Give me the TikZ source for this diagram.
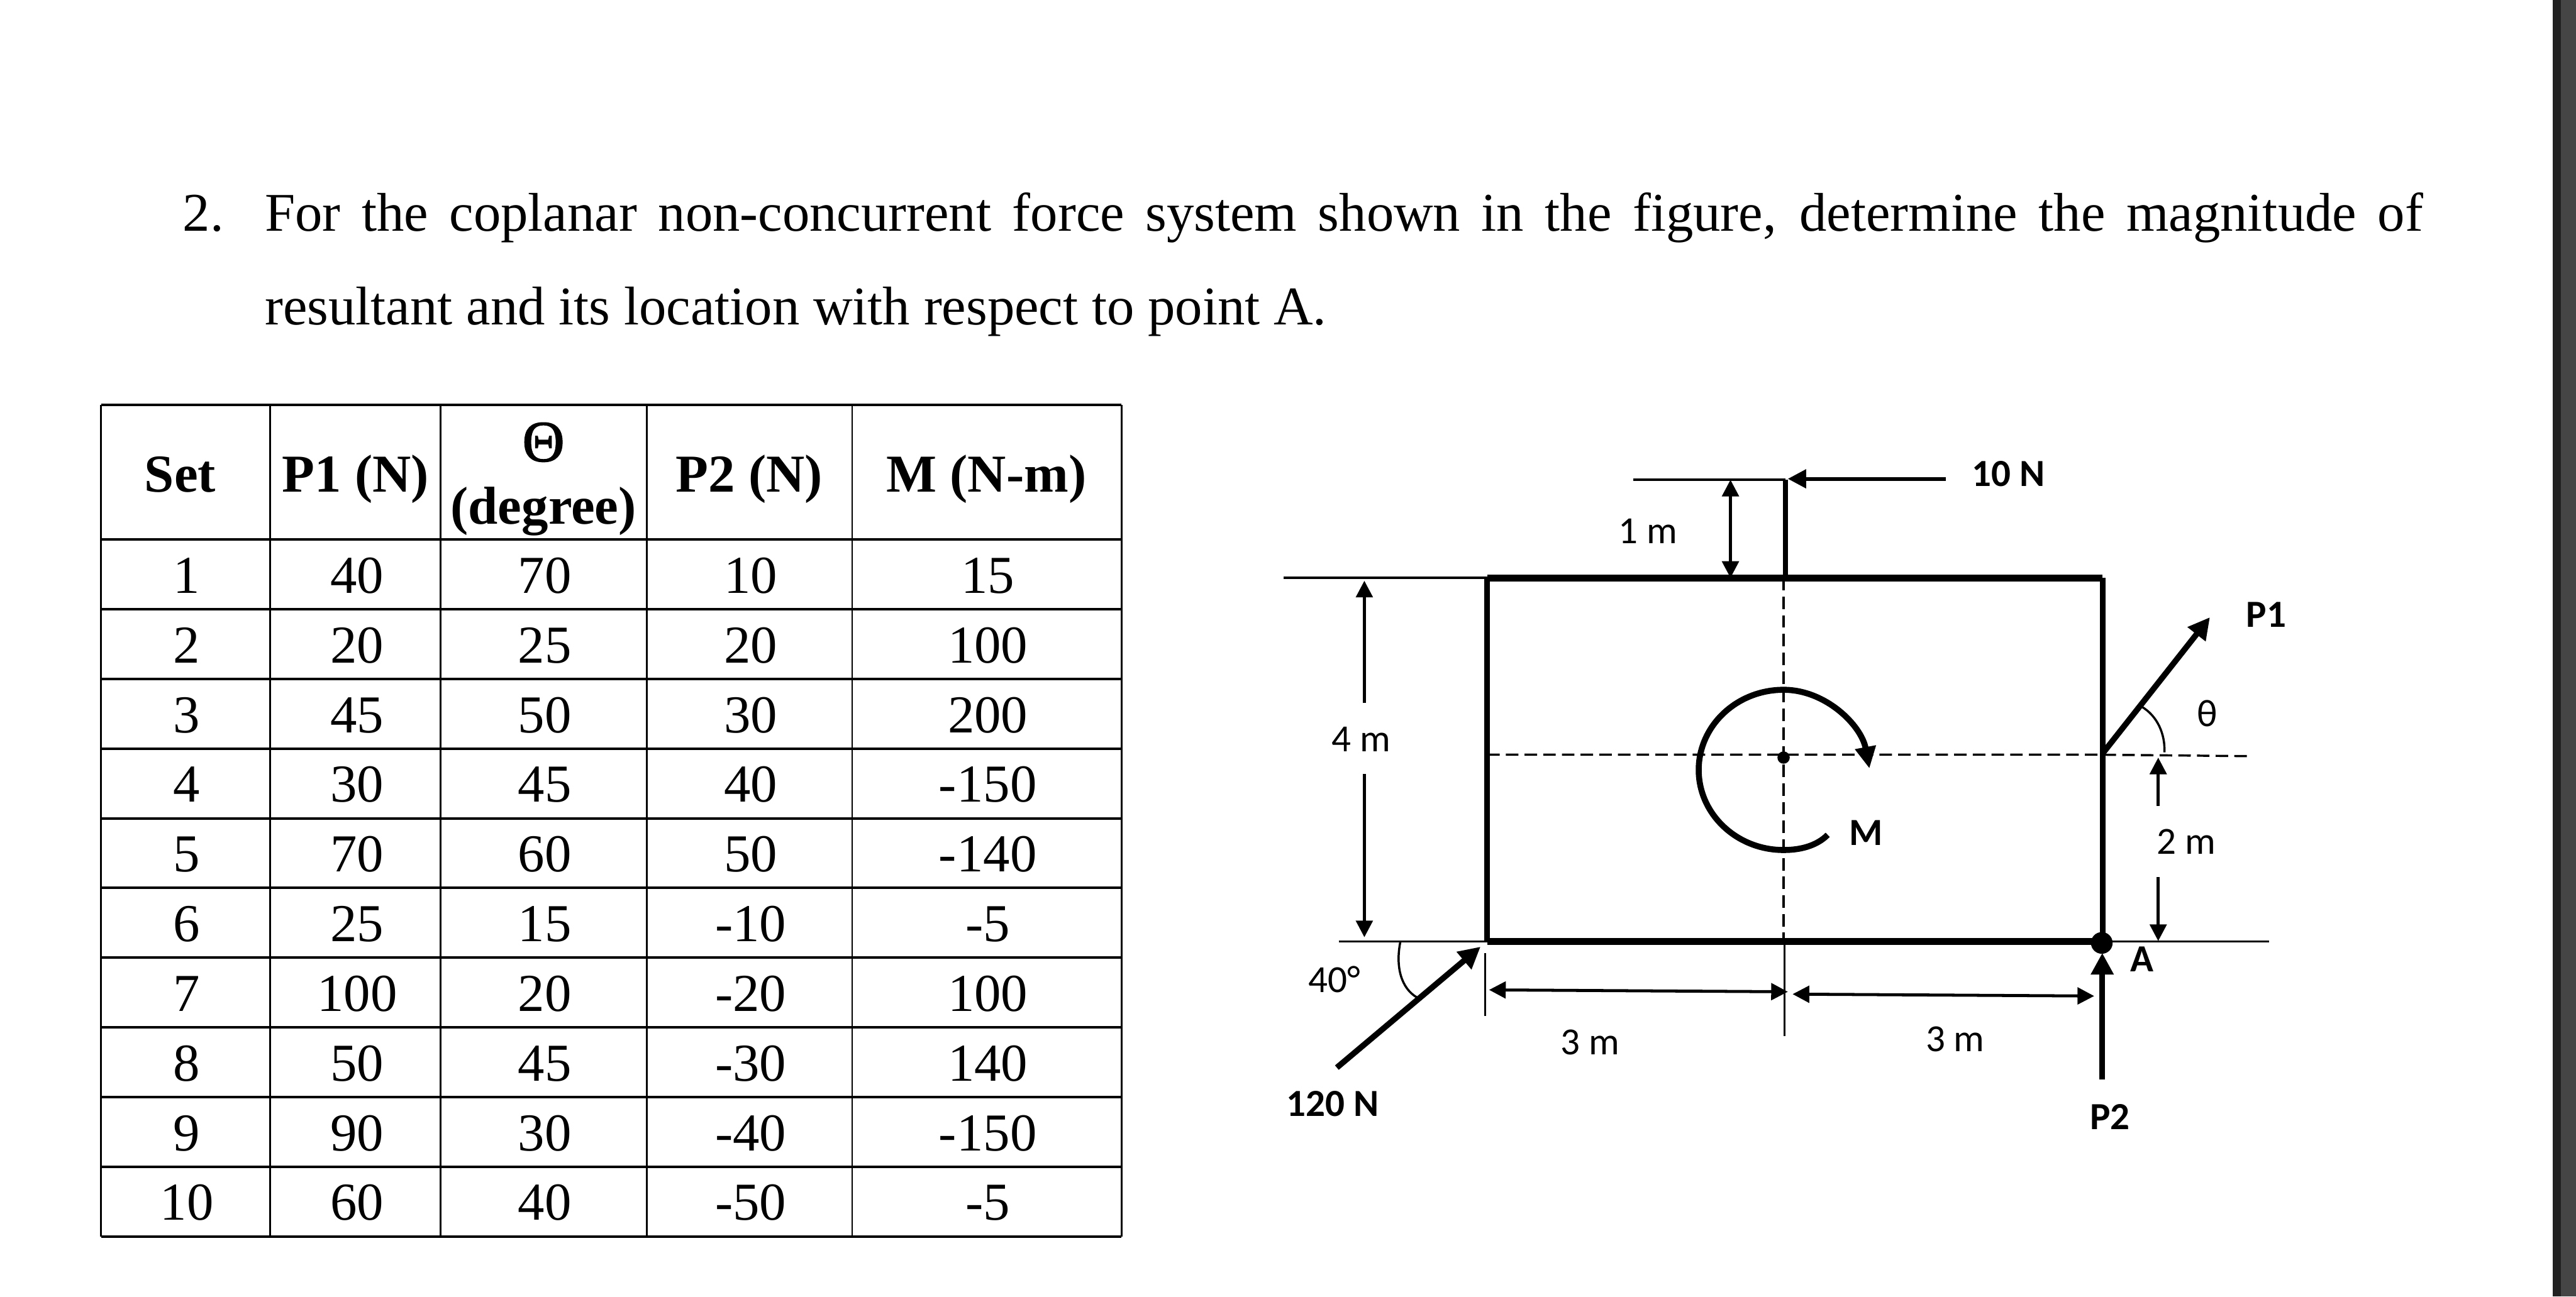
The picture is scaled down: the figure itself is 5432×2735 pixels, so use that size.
\documentclass[tikz,border=0pt]{standalone}
\usepackage{fontspec}
\setmainfont{Liberation Serif}
\newfontfamily\labelfont{Carlito}
\newfontfamily\thetafont[FakeBold=1.6]{Liberation Serif}
\usetikzlibrary{arrows.meta}
\tikzset{
    cell/.style={anchor=base,inner sep=0pt,font=\fontsize{32}{38}\selectfont},
    headcell/.style={cell,font=\fontsize{32}{38}\selectfont\bfseries},
    bodytext/.style={anchor=base west,inner sep=0pt,font=\fontsize{32.7}{40}\selectfont},
    dimlabel/.style={inner sep=0pt,font=\fontsize{23}{28}\labelfont\selectfont},
    forcelabel/.style={inner sep=0pt,font=\fontsize{23}{28}\labelfont\bfseries\selectfont},
    wall/.style={line width=4pt},
    force/.style={line width=3.5pt,-{Triangle[length=13pt,width=13pt]}},
    dim/.style={line width=1.8pt,{Triangle[length=10pt,width=10pt]}-{Triangle[length=10pt,width=10pt]}},
    dimend/.style={line width=1.8pt,-{Triangle[length=10pt,width=10pt]}},
    guide/.style={line width=1.3pt},
    axis/.style={line width=1.3pt,dash pattern=on 7.5pt off 3.7pt},
}

\begin{document}
\begin{tikzpicture}[x=0.01cm,y=-0.01cm]
    \useasboundingbox (0,0) rectangle (5432,2735);
    % window edge
    \fill[fill=black!87] (5383,0) rectangle (5400,2735);
    \fill[fill=black!73] (5400,0) rectangle (5432,2735);
    % question
    \node[bodytext] (num) at (385,487) {2.};
    \node[bodytext] (line1) at (558,487) {\makebox[45.48cm][s]{For the coplanar non-concurrent force system shown in the figure, determine the magnitude of}};
    \node[bodytext] (line2) at (558,685) {resultant and its location with respect to point A.};
    % table
    \foreach \yy in {854,1138,1285,1432,1579,1726,1873,2020,2167,2314,2461,2608}
        \draw[line width=1.5pt] (213,\yy) -- (2365,\yy);
    \foreach \xx in {213,570,929,1364,1797,2365}
        \draw[line width=1pt] (\xx,854) -- (\xx,2608);
    \node[headcell] (hset) at (380,1038) {Set};
    \node[headcell] (hpa) at (750,1038) {P1 (N)};
    \node[cell,font=\fontsize{35}{38}\thetafont] (hang) at (1146,973) {Θ};
    \node[headcell] (hdeg) at (1146,1105) {(degree)};
    \node[headcell] (hpb) at (1580,1038) {P2 (N)};
    \node[headcell] (hmom) at (2080,1038) {M (N-m)};
    \foreach \rownum/\pa/\ang/\pb/\mom [count=\i] in {1/40/70/10/15,2/20/25/20/100,3/45/50/30/200,4/30/45/40/-150,5/70/60/50/-140,6/25/15/-10/-5,7/100/20/-20/100,8/50/45/-30/140,9/90/30/-40/-150,10/60/40/-50/-5}
    {
        \node[cell] (set\i) at (394,{1251+147*(\i-1)}) {\rownum};
        \node[cell] (pa\i) at (753,{1251+147*(\i-1)}) {\pa};
        \node[cell] (ang\i) at (1149,{1251+147*(\i-1)}) {\ang};
        \node[cell] (pb\i) at (1583,{1251+147*(\i-1)}) {\pb};
        \node[cell] (mom\i) at (2083,{1251+147*(\i-1)}) {\mom};
    }
    % plate corners
    \coordinate (tl) at (3136,1219);
    \coordinate (tr) at (4434,1219);
    \coordinate (bl) at (3136,1986);
    \coordinate (br) at (4434,1986);
    \coordinate (stubbot) at (3765,1219);
    \coordinate (stubtop) at (3765,1012);
    \coordinate (mid) at (3761,1598);
    % centre lines
    \draw[axis] (3136,1592) -- (4434,1592) -- (4742,1595);
    \draw[axis] (3761,1219) -- (3761,1986);
    \fill (mid) circle (13);
    % plate
    \draw[wall] (tl) -- (tr);
    \draw[wall] (bl) -- (br);
    \draw[line width=3.4pt] (tl) -- (bl);
    \draw[line width=3.4pt] (tr) -- (br);
    \draw[line width=3pt] (stubbot) -- (stubtop);
    % extension lines
    \coordinate (exta) at (3444,1012);
    \coordinate (extb) at (2707,1219);
    \coordinate (extc) at (2823,1986);
    \coordinate (extd) at (4785,1986);
    \coordinate (tickl) at (3132,2011);
    \coordinate (ticklb) at (3132,2143);
    \coordinate (tickm) at (3763,1986);
    \coordinate (tickmb) at (3763,2185);
    \draw[guide] (exta) -- (stubtop);
    \draw[guide] (extb) -- (tl);
    \draw[guide] (extc) -- (bl);
    \draw[guide] (br) -- (extd);
    \draw[guide] (tickl) -- (ticklb);
    \draw[guide] (tickm) -- (tickmb);
    % 10 N
    \coordinate (tena) at (4103,1010);
    \coordinate (tenb) at (3770,1010);
    \draw[line width=2.3pt,-{Triangle[length=11pt,width=11pt]}] (tena) -- (tenb);
    \node[forcelabel] (ten) at (4235,1000) {10 N};
    % 1 m
    \coordinate (onea) at (3649,1012);
    \coordinate (oneb) at (3649,1219);
    \draw[dim] (onea) -- (oneb);
    \node[dimlabel] (one) at (3475,1120) {1 m};
    % 4 m
    \coordinate (foura) at (2877,1225);
    \coordinate (fourb) at (2877,1483);
    \coordinate (fourc) at (2877,1633);
    \coordinate (fourd) at (2877,1977);
    \draw[dimend] (fourb) -- (foura);
    \draw[dimend] (fourc) -- (fourd);
    \node[dimlabel] (four) at (2870,1560) {4 m};
    % 2 m
    \coordinate (twoa) at (4551,1598);
    \coordinate (twob) at (4551,1700);
    \coordinate (twoc) at (4551,1850);
    \coordinate (twod) at (4551,1985);
    \draw[dimend] (twob) -- (twoa);
    \draw[dimend] (twoc) -- (twod);
    \node[dimlabel] (two) at (4610,1775) {2 m};
    % 3 m twice
    \coordinate (threea) at (3140,2088);
    \coordinate (threeb) at (3770,2092);
    \coordinate (threec) at (3780,2097);
    \coordinate (threed) at (4416,2101);
    \draw[dim] (threea) -- (threeb);
    \draw[dim] (threec) -- (threed);
    \node[dimlabel] (threel) at (3353,2198) {3 m};
    \node[dimlabel] (threer) at (4123,2192) {3 m};
    % moment
    \draw[line width=3.6pt,-{Triangle[length=13pt,width=12pt]}] (3854,1761) .. controls (3830,1785) and (3795,1793) .. (3761,1793) .. controls (3662,1793) and (3582,1717) .. (3582,1624) .. controls (3582,1531) and (3662,1455) .. (3761,1455) .. controls (3850,1455) and (3925,1530) .. (3942,1621);
    \node[forcelabel] (mm) at (3935,1757) {M};
    % P1
    \coordinate (pastart) at (4434,1589);
    \coordinate (paend) at (4660,1302);
    \draw[force] (pastart) -- (paend);
    \node[forcelabel] (pa) at (4779,1297) {P1};
    \draw[guide] (4515,1490) .. controls (4550,1510) and (4566,1550) .. (4564,1587);
    \node[dimlabel] (theta) at (4654,1505) {θ};
    % P2
    \coordinate (pbstart) at (4433,2277);
    \coordinate (pbend) at (4433,2010);
    \draw[force] (pbstart) -- (pbend);
    \node[forcelabel] (pb) at (4449,2356) {P2};
    % A
    \node[circle,fill=black,inner sep=0pt,minimum size=13pt] (pta) at (4432,1989) {};
    \node[forcelabel] (aa) at (4517,2024) {A};
    % 120 N
    \coordinate (cstart) at (2819,2252);
    \coordinate (cend) at (3122,1997);
    \draw[force] (cstart) -- (cend);
    \node[forcelabel] (cc) at (2810,2328) {120 N};
    \draw[guide] (2953,1986) .. controls (2942,2040) and (2955,2085) .. (2988,2104);
    \node[dimlabel] (forty) at (2814,2066) {40°};
\end{tikzpicture}
\end{document}
